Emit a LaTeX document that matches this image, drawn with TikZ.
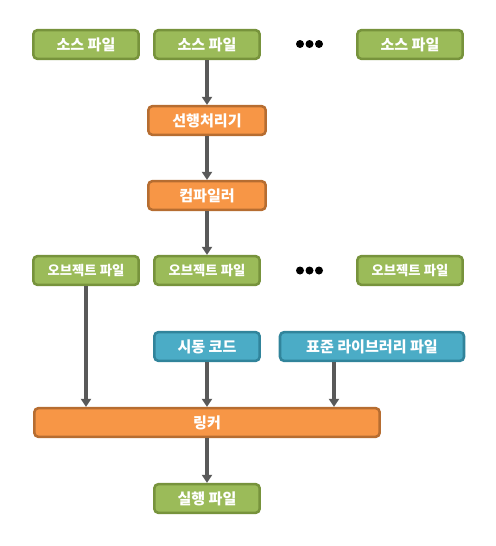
\documentclass[tikz,border=0pt]{standalone}
\usepackage{fontspec}
\newfontfamily\krfont{Noto Sans CJK KR}
\usetikzlibrary{arrows.meta,positioning}

\definecolor{grnfill}{HTML}{9BBB59}
\definecolor{grnline}{HTML}{77933C}
\definecolor{orgfill}{HTML}{F79646}
\definecolor{orgline}{HTML}{B66D31}
\definecolor{blufill}{HTML}{4BACC6}
\definecolor{bluline}{HTML}{31849B}
\definecolor{arrowgray}{HTML}{595959}

\tikzset{
	box/.style={rounded corners=3pt, line width=1.9pt, inner sep=0pt,
		minimum height=21.5pt, text=white, font=\krfont\bfseries\fontsize{11.3}{13}\selectfont},
	filebox/.style={box, draw=grnline, fill=grnfill, minimum width=79pt},
	objbox/.style={filebox, font=\krfont\bfseries\fontsize{10}{12}\selectfont},
	toolbox/.style={box, draw=orgline, fill=orgfill, minimum width=88pt},
	libbox/.style={box, draw=bluline, fill=blufill},
	flow/.style={draw=arrowgray, line width=2.4pt, -{Triangle[width=7.5pt,length=6pt]}}
}

\begin{document}
\begin{tikzpicture}[x=0.75pt, y=-0.75pt]
	\useasboundingbox (0,0) rectangle (496,546);

	% source files
	\node[filebox] (src1) at (86,44.5) {소스 파일};
	\node[filebox] (src2) at (207,44.5) {소스 파일};
	\node[filebox] (src3) at (410,44.5) {소스 파일};
	\fill (300,44) circle (4) (309.5,44) circle (4) (319,44) circle (4);

	% tools
	\node[toolbox] (pre) at (207,120.5) {선행처리기};
	\node[toolbox] (comp) at (207,195.5) {컴파일러};

	% object files
	\node[objbox] (obj1) at (86,270.5) {오브젝트 파일};
	\node[objbox] (obj2) at (207,270.5) {오브젝트 파일};
	\node[objbox] (obj3) at (410,270.5) {오브젝트 파일};
	\fill (300,270.5) circle (4) (309.5,270.5) circle (4) (319,270.5) circle (4);

	% startup code and library
	\node[libbox, minimum width=79pt] (start) at (207,346.5) {시동 코드};
	\node[libbox, minimum width=138pt] (lib) at (372,346.5) {표준 라이브러리 파일};

	% linker and result
	\node[toolbox, minimum width=259pt] (link) at (207,422.5) {링커};
	\node[filebox] (exe) at (207,498.5) {실행 파일};

	\coordinate (libx) at (334,0);

	\draw[flow] (src2) -- (pre);
	\draw[flow] (pre) -- (comp);
	\draw[flow] (comp) -- (obj2);
	\draw[flow] (obj1) -- (obj1 |- link.north);
	\draw[flow] (start) -- (link);
	\draw[flow] (libx |- lib.south) -- (libx |- link.north);
	\draw[flow] (link) -- (exe);

\end{tikzpicture}
\end{document}
